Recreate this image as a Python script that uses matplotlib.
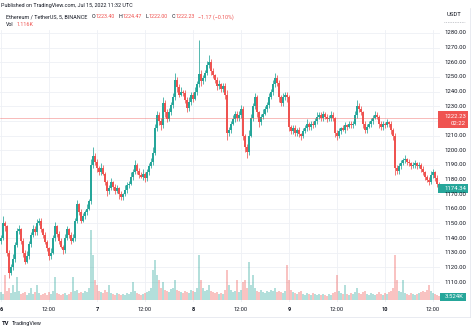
import numpy as np
import matplotlib
matplotlib.use("Agg")
import matplotlib.pyplot as plt
from matplotlib.patches import Rectangle
from matplotlib.lines import Line2D

plt.rcParams['font.family'] = ['Roboto', 'DejaVu Sans']

# ---------------- data (30-min aggregated candles) ----------------
first_open = 1138
closes = [
    1140, 1150, 1148, 1130, 1116, 1120, 1126, 1135, 1145, 1146, 1138, 1130, 1124, 1128, 1136, 1142, 1146, 1144, 1150, 1152,
    1146, 1142, 1137, 1133, 1128, 1130, 1140, 1148, 1143, 1138, 1134, 1132, 1140, 1146, 1142, 1138, 1140, 1152, 1163, 1158,
    1152, 1155, 1158, 1160, 1165, 1190, 1196, 1192, 1188, 1185, 1188, 1184, 1178, 1172, 1174, 1178, 1175, 1172, 1174, 1170,
    1168, 1170, 1173, 1176, 1177, 1182, 1185, 1190, 1186, 1183, 1182, 1184, 1181, 1185, 1189, 1192, 1198, 1215, 1224, 1220,
    1217, 1232, 1226, 1221, 1226, 1231, 1236, 1248, 1243, 1238, 1240, 1239, 1234, 1229, 1233, 1238, 1235, 1240, 1245, 1252,
    1247, 1249, 1253, 1258, 1260, 1254, 1251, 1248, 1244, 1245, 1242, 1244, 1238, 1212, 1214, 1218, 1221, 1225, 1222, 1224,
    1228, 1210, 1202, 1199, 1210, 1222, 1230, 1236, 1226, 1219, 1223, 1225, 1228, 1231, 1236, 1240, 1245, 1249, 1246, 1236,
    1232, 1236, 1238, 1236, 1216, 1213, 1215, 1212, 1214, 1211, 1210, 1213, 1215, 1218, 1216, 1218, 1217, 1220, 1223, 1224,
    1222, 1225, 1223, 1221, 1222, 1224, 1222, 1212, 1210, 1213, 1215, 1214, 1217, 1216, 1218, 1217, 1218, 1224, 1230, 1228,
    1226, 1218, 1214, 1216, 1218, 1220, 1222, 1224, 1223, 1218, 1216, 1218, 1217, 1219, 1218, 1214, 1210, 1188, 1186, 1189,
    1191, 1193, 1194, 1192, 1191, 1189, 1190, 1191, 1189, 1190, 1187, 1185, 1182, 1180, 1178, 1183, 1185, 1181, 1177, 1174.34,
]
wick_up = [
    2, 5, 2, 1, 2, 2, 3, 2, 2, 3, 1, 2, 2, 3, 2, 2, 3, 2, 3, 2,
    2, 1, 2, 2, 1, 3, 2, 3, 1, 2, 2, 1, 3, 2, 1, 2, 3, 2, 3, 1,
    2, 2, 1, 3, 2, 4, 6, 2, 2, 1, 3, 2, 1, 2, 2, 3, 1, 2, 2, 1,
    2, 1, 3, 2, 2, 3, 2, 3, 1, 2, 2, 3, 1, 2, 2, 3, 4, 3, 3, 2,
    2, 4, 2, 2, 3, 2, 3, 5, 2, 2, 3, 1, 2, 2, 3, 2, 2, 3, 2, 23,
    3, 2, 2, 3, 5, 2, 2, 1, 2, 3, 1, 2, 2, 3, 2, 2, 3, 2, 2, 3,
    3, 2, 1, 2, 4, 3, 2, 3, 2, 1, 2, 3, 2, 2, 3, 2, 3, 4, 2, 2,
    2, 3, 2, 2, 2, 1, 2, 2, 1, 2, 1, 2, 2, 3, 1, 2, 2, 2, 3, 2,
    2, 2, 1, 2, 2, 3, 2, 1, 2, 2, 1, 2, 2, 1, 2, 2, 2, 3, 4, 2,
    2, 1, 2, 2, 2, 2, 2, 3, 2, 1, 2, 2, 1, 2, 1, 2, 1, 2, 2, 2,
    2, 2, 3, 1, 2, 1, 2, 2, 1, 2, 1, 2, 1, 1, 2, 3, 2, 1, 2, 1,
]
wick_dn = [
    2, 1, 3, 2, 3, 1, 2, 2, 1, 2, 2, 3, 2, 1, 2, 2, 1, 2, 2, 1,
    2, 2, 1, 2, 3, 2, 1, 2, 2, 2, 1, 3, 2, 1, 2, 2, 1, 2, 2, 2,
    2, 1, 2, 2, 1, 2, 2, 2, 3, 2, 2, 1, 2, 3, 2, 1, 2, 2, 1, 3,
    2, 2, 1, 2, 2, 1, 2, 1, 2, 2, 1, 2, 3, 2, 2, 1, 2, 1, 2, 3,
    3, 2, 3, 2, 1, 2, 2, 2, 3, 2, 1, 2, 2, 3, 2, 2, 2, 1, 2, 2,
    3, 2, 2, 2, 2, 3, 2, 2, 3, 2, 2, 2, 3, 5, 2, 2, 1, 2, 2, 2,
    2, 3, 3, 4, 2, 1, 2, 2, 3, 3, 2, 2, 1, 2, 2, 1, 2, 2, 2, 3,
    2, 2, 2, 3, 3, 2, 2, 2, 2, 2, 3, 2, 1, 2, 2, 2, 2, 1, 2, 2,
    2, 2, 2, 2, 1, 2, 2, 3, 3, 2, 2, 1, 2, 2, 1, 2, 2, 1, 2, 2,
    2, 3, 2, 2, 1, 2, 2, 1, 2, 3, 2, 2, 2, 1, 2, 3, 3, 5, 2, 2,
    2, 1, 2, 2, 2, 2, 1, 2, 2, 1, 2, 2, 2, 2, 2, 1, 2, 2, 2, 2,
]
volume_k = [
    8, 6, 25, 9, 12, 7, 15, 8, 23, 9, 6, 7, 8, 5, 7, 12, 6, 8, 15, 7,
    5, 6, 7, 5, 8, 6, 9, 23, 7, 6, 5, 6, 7, 5, 6, 8, 23, 9, 10, 7,
    8, 7, 9, 8, 12, 70, 45, 20, 15, 9, 8, 7, 10, 8, 15, 7, 6, 5, 7, 6,
    5, 6, 5, 7, 6, 8, 18, 9, 7, 6, 5, 6, 7, 8, 9, 12, 30, 40, 25, 20,
    12, 18, 10, 9, 8, 11, 12, 20, 10, 9, 8, 7, 9, 8, 7, 10, 9, 8, 12, 45,
    20, 12, 9, 10, 15, 9, 8, 7, 8, 6, 7, 6, 10, 30, 15, 10, 8, 9, 20, 8,
    10, 18, 20, 12, 38, 15, 25, 12, 9, 8, 10, 8, 7, 9, 8, 10, 9, 12, 8, 9,
    8, 7, 9, 35, 20, 10, 8, 7, 6, 8, 9, 6, 5, 7, 6, 5, 7, 6, 5, 6,
    5, 6, 5, 4, 6, 5, 7, 8, 25, 9, 7, 6, 15, 6, 5, 7, 6, 8, 12, 7,
    6, 8, 9, 6, 5, 7, 6, 5, 6, 8, 6, 5, 7, 6, 8, 9, 12, 45, 20, 9,
    8, 20, 7, 6, 5, 7, 6, 5, 6, 7, 8, 9, 8, 10, 15, 9, 7, 6, 5, 3.524,
]
price_ticks = [1280, 1270, 1260, 1250, 1240, 1230, 1210, 1200, 1190, 1180, 1170,
               1160, 1150, 1140, 1130, 1120, 1110]
time_ticks = [0, 12, 24, 36, 48, 60, 72, 84, 96, 108]
time_labels = ["6", "12:00", "7", "12:00", "8", "12:00", "9", "12:00", "10", "12:00"]
last_price = 1174.34
cross_price = 1222.23

UP, DN, TXT = '#26a69a', '#ef5350', '#131722'

# ---------------- layout helpers ----------------
W, H = 474, 332
fig = plt.figure(figsize=(W / 100, H / 100), dpi=100)
fig.patch.set_facecolor('white')

def fx(x):
    return x / W

def fy(y):
    return 1 - y / H

AX_L, AX_R, AX_T, AX_B = 0, 440, 30, 302
rect = [fx(AX_L), fy(AX_B), fx(AX_R) - fx(AX_L), (AX_B - AX_T) / H]
ylim = (1280 - (AX_B - 33) / 1.465, 1280 + (33 - AX_T) / 1.465)
xlim = ((AX_L - 1) / 4, (AX_R - 1) / 4)

closes = np.array(closes, dtype=float)
opens = np.concatenate([[first_open], closes[:-1]])
highs = np.maximum(opens, closes) + np.array(wick_up)
lows = np.minimum(opens, closes) - np.array(wick_dn)
hours = np.arange(len(closes)) * 0.5
up = closes >= opens
cols = np.where(up, UP, DN)

# grid layer
gax = fig.add_axes(rect)
gax.set_xlim(*xlim)
gax.set_ylim(*ylim)
for p in range(1110, 1290, 10):
    gax.axhline(p, color='#eef0f5', lw=0.6, zorder=0)
for t in time_ticks:
    gax.axvline(t, color='#eef0f5', lw=0.6, zorder=0)
gax.axis('off')

# volume layer
vax = fig.add_axes(rect)
vax.patch.set_visible(False)
vax.set_xlim(*xlim)
vax.set_ylim(-2, AX_B - AX_T - 2)
vax.bar(hours, volume_k, width=0.5, color=cols, alpha=0.35, linewidth=0)
vax.axis('off')

# candle layer
ax = fig.add_axes(rect)
ax.patch.set_visible(False)
ax.set_xlim(*xlim)
ax.set_ylim(*ylim)
ax.vlines(hours, lows, highs, colors=cols, lw=0.55)
body_lo = np.minimum(opens, closes)
body_h = np.maximum(np.abs(closes - opens), 0.4)
ax.bar(hours, body_h, bottom=body_lo, width=0.32, color=cols, linewidth=0)
ax.axhline(cross_price, color=DN, lw=0.5, alpha=0.55)
ax.axis('off')

# ---------------- price scale ----------------
def py(p):
    return 33 + (1280 - p) * 1.465

for p in price_ticks:
    fig.text(fx(466), fy(py(p)), f"{p:.2f}", ha='right', va='center',
             fontsize=4.3, color=TXT)
fig.text(fx(454), fy(15), "USDT", ha='center', va='center', fontsize=4.3, color=TXT)
fig.add_artist(Line2D([fx(444), fx(465)], [fy(22), fy(22)], transform=fig.transFigure,
                      color='#9598a1', lw=0.5, ls=(0, (1, 1.5))))

def box(x0, x1, y0, y1, color):
    fig.add_artist(Rectangle((fx(x0), fy(y1)), fx(x1) - fx(x0), (y1 - y0) / H,
                             transform=fig.transFigure, color=color, lw=0))

box(438, 468, 111, 128, DN)
fig.text(fx(466), fy(116.5), f"{cross_price:.2f}", ha='right', va='center', fontsize=4.3, color='white')
fig.text(fx(466), fy(123.5), "02:22", ha='right', va='center', fontsize=4.3, color='white')
box(438, 468, 183.5, 192.5, UP)
fig.text(fx(466), fy(188), f"{last_price:.2f}", ha='right', va='center', fontsize=4.3, color='white')
box(440, 466, 292.5, 301, UP)
fig.text(fx(464), fy(296.8), f"{volume_k[-1]:.3f}K", ha='right', va='center', fontsize=4.3, color='white')

# ---------------- time scale ----------------
for t, lab in zip(time_ticks, time_labels):
    x = 1 + 4 * t
    bold = ':' not in lab
    fig.text(fx(x), fy(309.5), lab, ha='center', va='center', fontsize=4.1,
             color=TXT, fontweight='bold' if bold else 'normal')

# frame
fig.add_artist(Line2D([fx(470), fx(470)], [fy(8), fy(317)], transform=fig.transFigure,
                      color='#e0e3eb', lw=0.5))
fig.add_artist(Line2D([fx(0), fx(470)], [fy(317), fy(317)], transform=fig.transFigure,
                      color='#e0e3eb', lw=0.5))

# ---------------- header ----------------
fig.text(fx(1), fy(6), "Published on TradingView.com, Jul 15, 2022 11:32 UTC",
         ha='left', va='center', fontsize=3.9, color=TXT)

def chain(x, y, pieces, size=3.9):
    t = fig.text(fx(x), fy(y), pieces[0][0], ha='left', va='center', fontsize=size, color=pieces[0][1])
    for s, c, gap in pieces[1:]:
        t = ax.annotate(s, xy=(1, 0.5), xycoords=t, xytext=(gap, 0), textcoords='offset points',
                        ha='left', va='center', fontsize=size, color=c, annotation_clip=False)
    return t

chain(6, 17, [("Ethereum / TetherUS, 5, BINANCE", TXT),
              ("O", TXT, 3.0), ("1223.40", DN, 0.2),
              ("H", TXT, 2.6), ("1224.47", DN, 0.2),
              ("L", TXT, 2.6), ("1222.00", DN, 0.2),
              ("C", TXT, 2.6), ("1222.23", DN, 0.2),
              ("\u22121.17 (\u22120.10%)", DN, 2.2)])
chain(6, 24, [("Vol", TXT), ("1.116K", DN, 2.0)])

fig.text(fx(2), fy(323.5), "TV", ha='left', va='center', fontsize=4.2, color=TXT, fontweight='bold')
fig.text(fx(11.5), fy(323.5), "TradingView", ha='left', va='center', fontsize=3.9, color=TXT)

fig.savefig("out.png", dpi=100)
